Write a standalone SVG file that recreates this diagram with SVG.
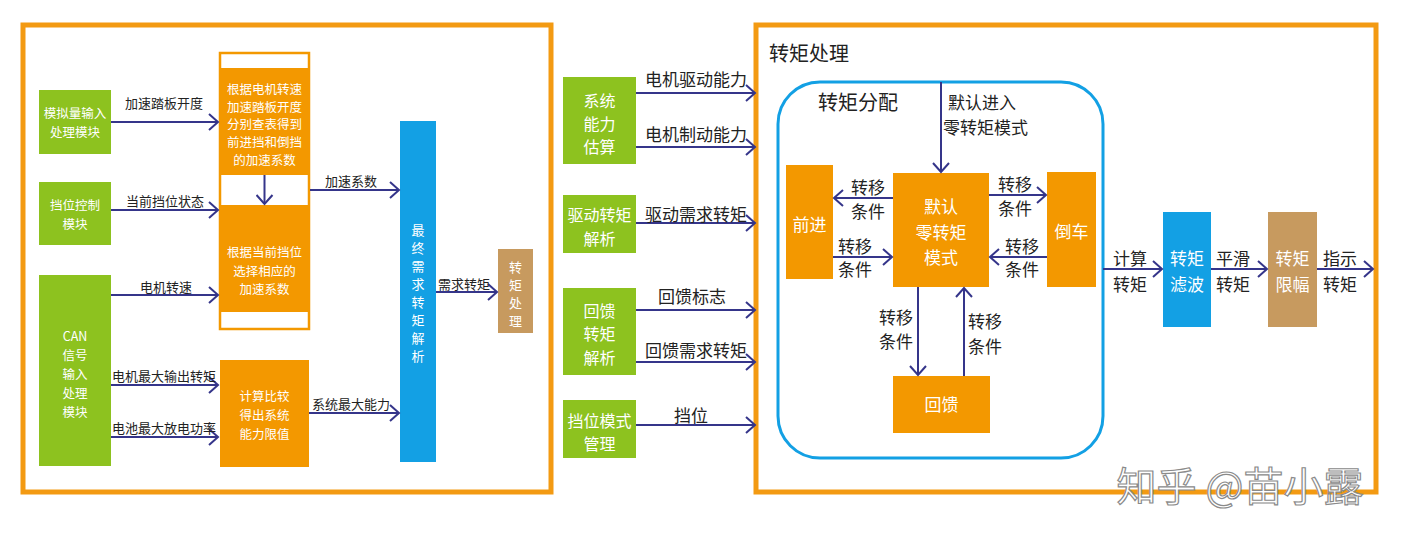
<svg xmlns="http://www.w3.org/2000/svg" width="1409" height="540" viewBox="0 0 1409 540">
<defs>
<marker id="ah" markerUnits="userSpaceOnUse" markerWidth="12" markerHeight="18" refX="10" refY="9" orient="auto">
<path d="M1,1 L10,9 L1,17" fill="none" stroke="#35358a" stroke-width="2"/>
</marker>
<style>
text{font-family:"Noto Sans CJK SC","Noto Sans",sans-serif;dominant-baseline:central;text-anchor:middle}
.frame{fill:none;stroke:#f39a12;stroke-width:5}
.g{fill:#8dc21f}
.o{fill:#f39800}
.b{fill:#13a0e4}
.t{fill:#c79a5f}
.w{fill:#fff}
.wt{fill:#fff}
.k{fill:#222}
.s12{font-size:12.5px}
.s13{font-size:13px}
.s16{font-size:16px}
.s17{font-size:17px}
.s18{font-size:18px}
.s20{font-size:20px}
.c{fill:none;stroke:#35358a;stroke-width:2;marker-end:url(#ah)}
.ls{text-anchor:start}
</style>
</defs>
<rect width="1409" height="540" fill="#fff"/>

<g id="frame-left"><rect class="frame" x="23" y="25" width="528" height="467"/></g>
<g id="frame-right"><rect class="frame" x="756" y="25" width="620" height="467"/>
<text class="k s20 ls" x="769" y="52">转矩处理</text></g>

<g id="n-analog"><rect class="g" x="39" y="90" width="72" height="64"/>
<text class="wt s12" x="75" y="112">模拟量输入</text><text class="wt s12" x="75" y="131">处理模块</text></g>
<g id="n-gear"><rect class="g" x="39" y="182" width="72" height="63"/>
<text class="wt s12" x="75" y="204">挡位控制</text><text class="wt s12" x="75" y="223">模块</text></g>
<g id="n-can"><rect class="g" x="39" y="275" width="72" height="191"/>
<text class="wt s12" x="75" y="335">CAN</text><text class="wt s12" x="75" y="354">信号</text><text class="wt s12" x="75" y="373">输入</text><text class="wt s12" x="75" y="392">处理</text><text class="wt s12" x="75" y="411">模块</text></g>

<g id="n-coef"><rect x="220" y="53" width="89" height="276" fill="#fff" stroke="#f39800" stroke-width="2.5"/>
<rect class="o" x="220" y="68" width="89" height="107"/>
<rect class="o" x="220" y="205" width="89" height="107"/>
<text class="wt s12" x="264.5" y="88">根据电机转速</text>
<text class="wt s12" x="264.5" y="106">加速踏板开度</text>
<text class="wt s12" x="264.5" y="123">分别查表得到</text>
<text class="wt s12" x="264.5" y="141">前进挡和倒挡</text>
<text class="wt s12" x="264.5" y="159">的加速系数</text>
<text class="wt s12" x="264.5" y="251">根据当前挡位</text>
<text class="wt s12" x="264.5" y="270">选择相应的</text>
<text class="wt s12" x="264.5" y="288">加速系数</text></g>

<g id="n-calc"><rect class="o" x="220" y="360" width="89" height="107"/>
<text class="wt s12" x="264.5" y="395">计算比较</text><text class="wt s12" x="264.5" y="414">得出系统</text><text class="wt s12" x="264.5" y="433">能力限值</text></g>

<g id="n-final"><rect class="b" x="400" y="121" width="36" height="341"/>
<text class="wt s13" x="418" y="229">最</text><text class="wt s13" x="418" y="247">终</text><text class="wt s13" x="418" y="265">需</text><text class="wt s13" x="418" y="283">求</text><text class="wt s13" x="418" y="301">转</text><text class="wt s13" x="418" y="319">矩</text><text class="wt s13" x="418" y="337">解</text><text class="wt s13" x="418" y="355">析</text></g>

<g id="n-tproc"><rect class="t" x="498" y="249" width="35" height="84"/>
<text class="wt s13" x="515.5" y="266">转</text><text class="wt s13" x="515.5" y="284">矩</text><text class="wt s13" x="515.5" y="302">处</text><text class="wt s13" x="515.5" y="320">理</text></g>

<g id="n-sys"><rect class="g" x="563" y="77" width="73" height="87"/>
<text class="wt s16" x="599.5" y="100">系统</text><text class="wt s16" x="599.5" y="123">能力</text><text class="wt s16" x="599.5" y="146">估算</text></g>
<g id="n-drive"><rect class="g" x="563" y="195" width="73" height="58"/>
<text class="wt s16" x="599.5" y="214">驱动转矩</text><text class="wt s16" x="599.5" y="238">解析</text></g>
<g id="n-regen"><rect class="g" x="563" y="288" width="73" height="87"/>
<text class="wt s16" x="599.5" y="310">回馈</text><text class="wt s16" x="599.5" y="333">转矩</text><text class="wt s16" x="599.5" y="357">解析</text></g>
<g id="n-mode"><rect class="g" x="563" y="400" width="73" height="58"/>
<text class="wt s16" x="599.5" y="420">挡位模式</text><text class="wt s16" x="599.5" y="443">管理</text></g>

<g id="n-dist"><rect x="778" y="82" width="325" height="376" rx="42" ry="42" fill="none" stroke="#13a0e4" stroke-width="3"/>
<text class="k s20" x="858" y="101">转矩分配</text></g>

<g id="n-zero"><rect class="o" x="893" y="173" width="96" height="114"/>
<text class="wt s17" x="941" y="205">默认</text><text class="wt s17" x="941" y="231">零转矩</text><text class="wt s17" x="941" y="256">模式</text></g>
<g id="n-fwd"><rect class="o" x="786" y="165" width="47" height="114"/>
<text class="wt s17" x="809.5" y="223">前进</text></g>
<g id="n-rev"><rect class="o" x="1047" y="172" width="49" height="115"/>
<text class="wt s17" x="1071.5" y="230">倒车</text></g>
<g id="n-fb"><rect class="o" x="893" y="376" width="97" height="57"/>
<text class="wt s17" x="941.5" y="403">回馈</text></g>

<g id="n-filter"><rect class="b" x="1163" y="212" width="48" height="115"/>
<text class="wt s17" x="1187" y="257">转矩</text><text class="wt s17" x="1187" y="283">滤波</text></g>
<g id="n-limit"><rect class="t" x="1268" y="212" width="49" height="115"/>
<text class="wt s17" x="1292.5" y="257">转矩</text><text class="wt s17" x="1292.5" y="283">限幅</text></g>

<g id="connectors">
<path class="c" d="M111,122 H218"/>
<path class="c" d="M111,210 H218"/>
<path class="c" d="M111,295 H218"/>
<path class="c" d="M111,385 H218"/>
<path class="c" d="M111,437 H218"/>
<path class="c" d="M264.5,175 V204"/>
<path class="c" d="M310,190 H399"/>
<path class="c" d="M309,413 H399"/>
<path class="c" d="M436,292 H497"/>
<path class="c" d="M636,93 H755"/>
<path class="c" d="M636,147 H755"/>
<path class="c" d="M636,223 H755"/>
<path class="c" d="M636,310 H755"/>
<path class="c" d="M636,362 H755"/>
<path class="c" d="M636,425 H755"/>
<path class="c" d="M941,82 V172"/>
<path class="c" d="M893,198 H834"/>
<path class="c" d="M833,257 H892"/>
<path class="c" d="M989,195 H1046"/>
<path class="c" d="M1047,257 H990"/>
<path class="c" d="M918,287 V375"/>
<path class="c" d="M964,376 V288"/>
<path class="c" d="M1103,269 H1162"/>
<path class="c" d="M1211,269 H1267"/>
<path class="c" d="M1317,269 H1373"/>
</g>

<g id="labels">
<text class="k s13" x="164" y="102">加速踏板开度</text>
<text class="k s13" x="165" y="200">当前挡位状态</text>
<text class="k s13" x="166" y="286">电机转速</text>
<text class="k s13" x="164" y="375">电机最大输出转矩</text>
<text class="k s13" x="164" y="427">电池最大放电功率</text>
<text class="k s13" x="351" y="180">加速系数</text>
<text class="k s13" x="351" y="403">系统最大能力</text>
<text class="k s13" x="464" y="283">需求转矩</text>
<text class="k s17" x="696" y="78">电机驱动能力</text>
<text class="k s17" x="696" y="133">电机制动能力</text>
<text class="k s17" x="696" y="213">驱动需求转矩</text>
<text class="k s17" x="692" y="295">回馈标志</text>
<text class="k s17" x="696" y="349">回馈需求转矩</text>
<text class="k s17" x="691" y="414">挡位</text>
<text class="k s17 ls" x="948" y="101">默认进入</text>
<text class="k s17 ls" x="943" y="126">零转矩模式</text>
<text class="k s17" x="868" y="186">转移</text><text class="k s17" x="868" y="210">条件</text>
<text class="k s17" x="855" y="245">转移</text><text class="k s17" x="855" y="268">条件</text>
<text class="k s17" x="1015" y="183">转移</text><text class="k s17" x="1015" y="207">条件</text>
<text class="k s17" x="1022" y="245">转移</text><text class="k s17" x="1022" y="268">条件</text>
<text class="k s17" x="896" y="316">转移</text><text class="k s17" x="896" y="340">条件</text>
<text class="k s17" x="985" y="320">转移</text><text class="k s17" x="985" y="345">条件</text>
<text class="k s17" x="1130" y="257">计算</text><text class="k s17" x="1130" y="283">转矩</text>
<text class="k s17" x="1233" y="257">平滑</text><text class="k s17" x="1233" y="283">转矩</text>
<text class="k s17" x="1340" y="257">指示</text><text class="k s17" x="1340" y="283">转矩</text>
</g>

<g id="watermark"><text x="1240" y="484" font-size="40" fill="#fff" stroke="#8a8a8a" stroke-width="1.2" style="font-family:'Noto Sans CJK SC',sans-serif">知乎 @苗小露</text></g>
</svg>
